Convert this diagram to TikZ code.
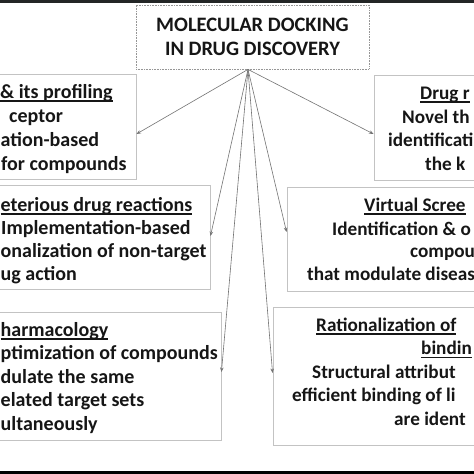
\documentclass[tikz,border=0pt]{standalone}
\usepackage{fontspec}
\setmainfont{Carlito}
\usetikzlibrary{arrows.meta}
\definecolor{boxgray}{RGB}{195,195,195}
\definecolor{dotgray}{RGB}{150,150,150}
\definecolor{arrgray}{RGB}{115,115,115}
\definecolor{txtcol}{RGB}{22,22,22}
\definecolor{bardark}{RGB}{35,38,38}
\newcommand\ulx[1]{\setbox0\hbox{#1}\rlap{\rule[-3.5pt]{\wd0}{1.3pt}}\box0}
\begin{document}
\begin{tikzpicture}[x=1pt,y=-1pt,
  box/.style={draw=boxgray, line width=0.9pt, inner sep=0pt},
  topbox/.style={draw=dotgray, line width=0.8pt, dash pattern=on 0.8pt off 0.8pt, inner sep=0pt},
  txt/.style={text=txtcol, inner sep=0pt},
  ttl/.style={font=\fontsize{20.5}{24}\selectfont\bfseries, text=txtcol, inner sep=0pt, anchor=base},
  le/.style={txt, font=\fontsize{20}{24}\selectfont\bfseries, anchor=base west},
  ri/.style={txt, font=\fontsize{19.2}{24}\selectfont\bfseries, anchor=base west},
  arr/.style={draw=arrgray, line width=0.6pt, -{Stealth[length=4.5pt,width=3.5pt]}}]
\useasboundingbox (0,0) rectangle (474,474);
\clip (0,0) rectangle (474,474);
\fill[white] (0,0) rectangle (474,474);
\fill[bardark] (0,0) rectangle (474,3);
\fill[black] (0,471) rectangle (474,474);

% boxes
\node[topbox, minimum width=233pt, minimum height=64pt] (T) at (252.5,37) {};
\node[box, minimum width=196pt, minimum height=105pt] (L1) at (38,126.5) {};
\node[box, minimum width=270pt, minimum height=104pt] (L2) at (75,237) {};
\node[box, minimum width=281pt, minimum height=128pt] (L3) at (80.5,376) {};
\node[box, minimum width=166pt, minimum height=105pt] (R1) at (457,127.5) {};
\node[box, minimum width=253pt, minimum height=104pt] (R2) at (413.5,239) {};
\node[box, minimum width=267pt, minimum height=138pt] (R3) at (406.5,376) {};

% title
\node[ttl] (t1) at (252.5,31.5) {MOLECULAR DOCKING};
\node[ttl] (t2) at (252.5,55.5) {IN DRUG DISCOVERY};

% left box 1
\node[le] (l1a) at (0,98) {\ulx{\& its profiling}};
\node[le] (l1b) at (9,122.5) {ceptor};
\node[le] (l1c) at (0.5,146) {ation-based};
\node[le] (l1d) at (1,170) {for compounds};

% left box 2
\node[le] (l2a) at (0.5,211) {\ulx{eterious drug reactions}};
\node[le] (l2b) at (1,234) {Implementation-based};
\node[le] (l2c) at (0.5,257) {onalization of non-target};
\node[le] (l2d) at (0.5,280) {ug action};

% left box 3
\node[le] (l3a) at (0.5,336) {\ulx{harmacology}};
\node[le] (l3b) at (0.5,359.5) {ptimization of compounds};
\node[le] (l3c) at (0.5,383) {dulate the same};
\node[le] (l3d) at (0.5,406.5) {elated target sets};
\node[le] (l3e) at (0.5,430) {ultaneously};

% right box 1
\node[ri] (r1a) at (420,99) {\ulx{Drug r}};
\node[ri] (r1b) at (402,123) {Novel th};
\node[ri] (r1c) at (388,146) {identificati};
\node[ri] (r1d) at (425,170) {the k};

% right box 2
\node[ri] (r2a) at (364,211) {\ulx{Virtual Scree}};
\node[ri] (r2b) at (332,235) {Identification \& o};
\node[ri] (r2c) at (410,257) {compou};
\node[ri] (r2d) at (307,280) {that modulate diseas};

% right box 3
\node[ri] (r3a) at (316,331) {\ulx{Rationalization of}};
\node[ri] (r3b) at (421,354.5) {\ulx{bindin}};
\node[ri] (r3c) at (312,378) {Structural attribut};
\node[ri] (r3d) at (292,401.5) {efficient binding of li};
\node[ri] (r3e) at (394,425) {are ident};

% connectors
\coordinate (src) at ([xshift=-4.5pt]T.south);
\draw[arr] (src) -- ([yshift=-7.5pt]L1.east);
\draw[arr] (src) -- ([yshift=-6.5pt]R1.west);
\draw[arr] (src) -- ([yshift=1pt]L2.east);
\draw[arr] (src) -- ([yshift=7pt]R2.west);
\draw[arr] (src) -- ([yshift=4pt]L3.east);
\draw[arr] (src) -- ([yshift=3pt]R3.west);
\end{tikzpicture}
\end{document}
